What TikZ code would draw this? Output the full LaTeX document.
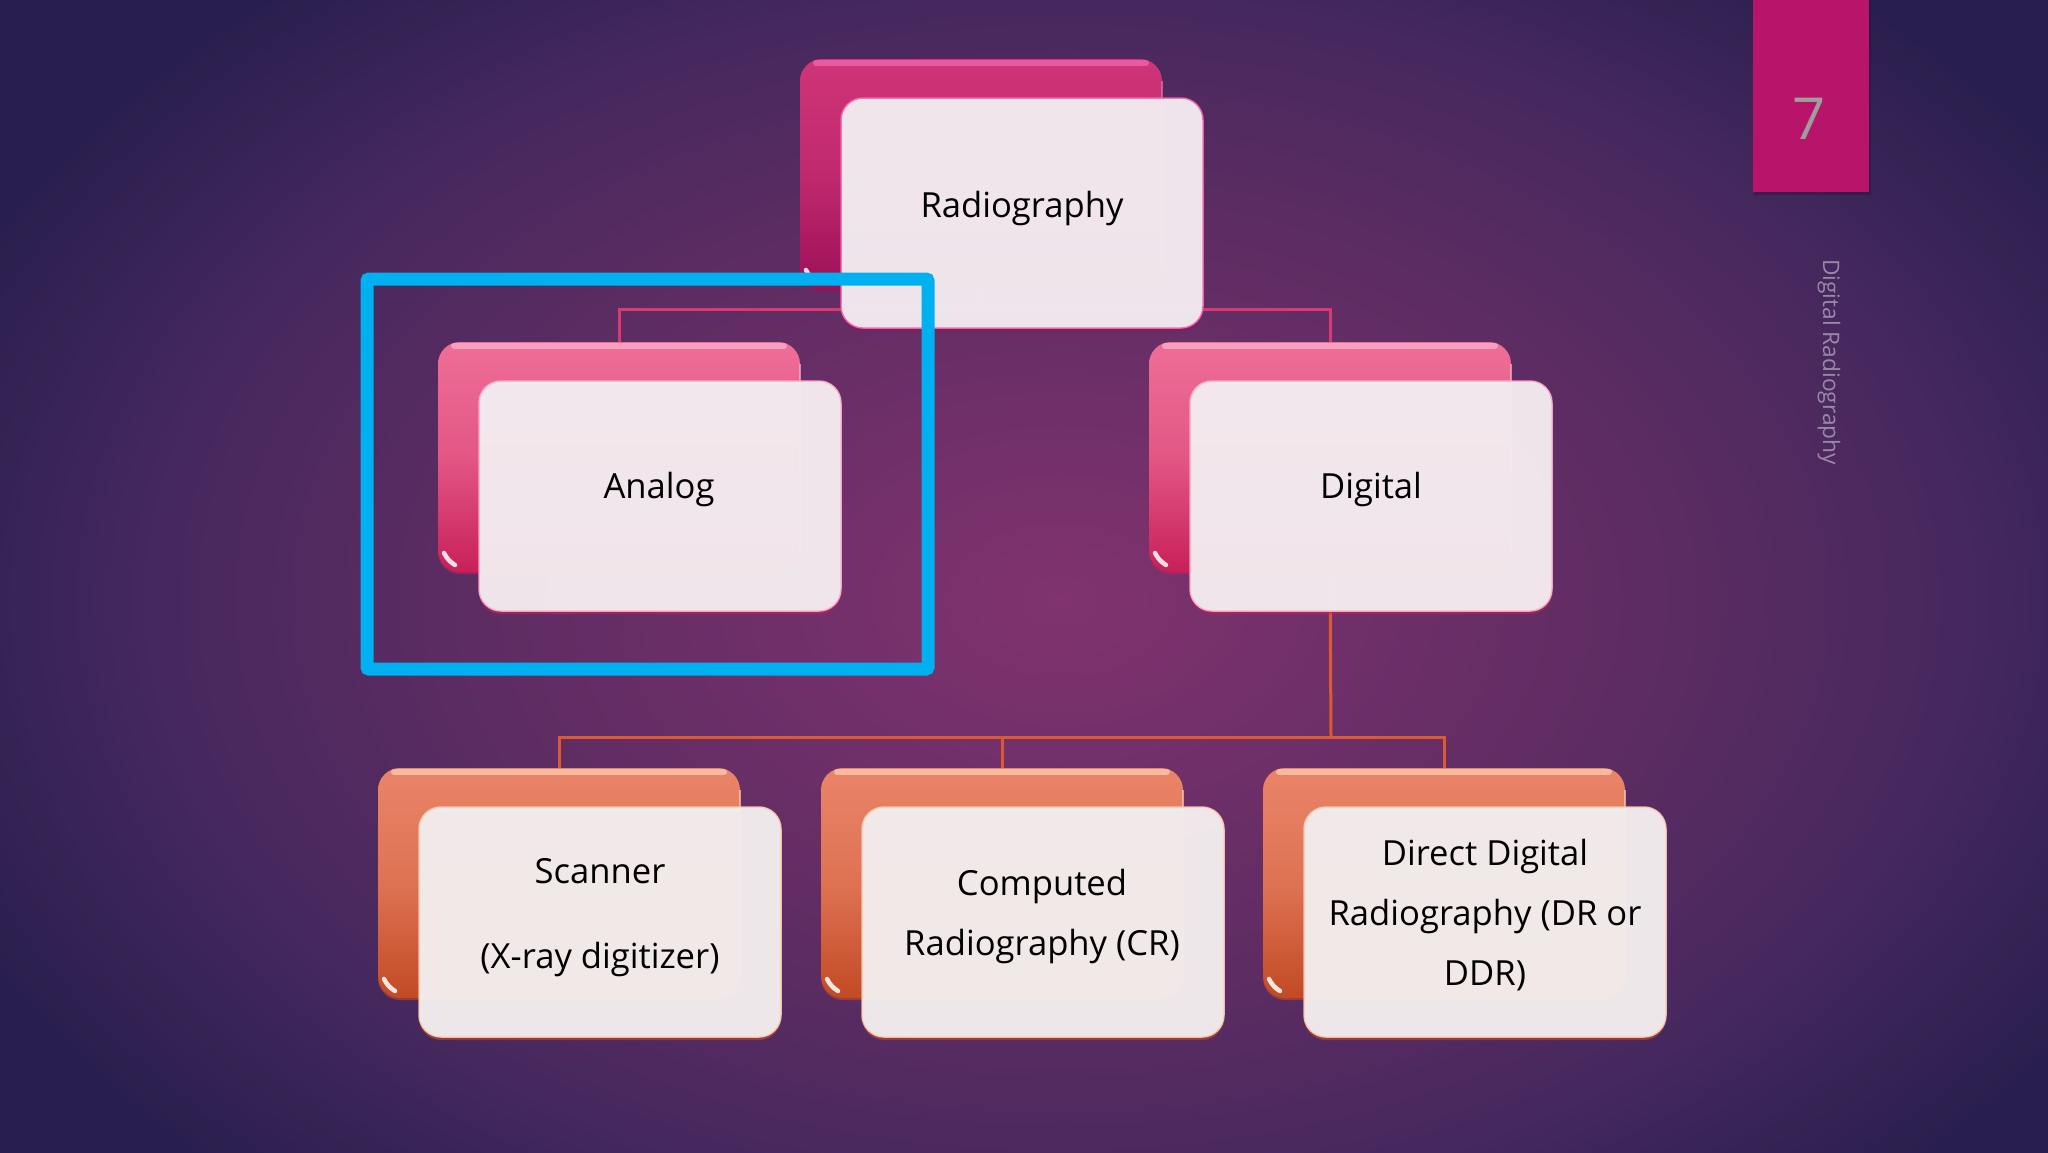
\documentclass[tikz,border=0pt]{standalone}
\usepackage{fontspec}
\setmainfont{Open Sans}
\usetikzlibrary{calc}
\pgfdeclarelayer{bgl}
\pgfdeclarelayer{conn}
\pgfsetlayers{bgl,conn,main}
\definecolor{bgA}{HTML}{80336E}
\definecolor{bgB}{HTML}{702F69}
\definecolor{bgC}{HTML}{5C2C62}
\definecolor{bgD}{HTML}{46285E}
\definecolor{bgE}{HTML}{291F4E}
\definecolor{wineT}{HTML}{D03478}
\definecolor{wineB}{HTML}{9C1058}
\definecolor{wineH}{HTML}{F468AE}
\definecolor{roseT}{HTML}{EE6E98}
\definecolor{roseB}{HTML}{C82058}
\definecolor{roseH}{HTML}{FBB0CC}
\definecolor{coralT}{HTML}{EA8468}
\definecolor{coralB}{HTML}{C24A24}
\definecolor{coralH}{HTML}{FBCDB4}
\definecolor{wineL}{HTML}{D83A72}
\definecolor{coralL}{HTML}{DC5A32}
\definecolor{cyanbox}{HTML}{00B0F0}
\definecolor{badge}{HTML}{B8146A}
\definecolor{cardfill}{HTML}{F4F2F4}
\pgfdeclareradialshading{bgshade}{\pgfpoint{0bp}{0bp}}{color(0bp)=(bgA);color(6bp)=(bgB);color(12.5bp)=(bgC);color(18.75bp)=(bgD);color(25bp)=(bgE);color(50bp)=(bgE)}
\tikzset{
  backcard/.style={rectangle,inner sep=0pt,outer sep=0pt,minimum width=362pt,minimum height=230pt,rounded corners=22pt,top color=#1T,bottom color=#1B,middle color=#1T!70!#1B},
  frontcard/.style={rectangle,inner sep=0pt,outer sep=0pt,minimum width=362pt,minimum height=230pt,rounded corners=22pt,fill=cardfill,fill opacity=.94,draw=#1,draw opacity=.9,line width=1.5pt},
  cardshadow/.style={rectangle,inner sep=0pt,outer sep=0pt,minimum width=362pt,minimum height=230pt,rounded corners=22pt,fill=#1,fill opacity=.6},
  cardtext/.style={font=\fontsize{34.6}{60}\selectfont,text=black,align=center,inner sep=0pt},
  link/.style={line width=3pt},
}
\newcommand{\cardpair}[4]{%
  \node[cardshadow=#4B] (#1s) at (#2-41,#3-37) {};
  \node[backcard=#4] (#1b) at (#2-41,#3-39) {};
  \draw[#4H,line width=6pt,line cap=round,opacity=.75] ($(#1b.north west)+(16,4)$) -- ($(#1b.north east)+(-16,4)$);
  \draw[#4H,line width=2pt,opacity=.7] ($(#1b.north east)+(0,22)$) -- ($(#1b.south east)+(0,-20)$);
  \draw[white,line width=4.5pt,line cap=round,opacity=.85] ($(#1b.south west)+(6,-19)$) to[bend right=15] ($(#1b.south west)+(17,-7)$);
  \node[cardshadow=#4B] (#1h) at (#2,#3+3) {};
  \node[frontcard=#4H] (#1f) at (#2,#3) {};
}
\begin{document}
\begin{tikzpicture}[x=1pt,y=-1pt]
\useasboundingbox (0,0) rectangle (2048,1152);
\begin{pgfonlayer}{bgl}
  \fill[bgE] (-5,-5) rectangle (2053,1157);
  \begin{scope}
    \clip (-5,-5) rectangle (2053,1157);
    \shade[shading=bgshade] (1060,600) ellipse [x radius=1200,y radius=800];
  \end{scope}
\end{pgfonlayer}

\cardpair{rad}{1022}{213}{wine}
\cardpair{ana}{660}{496}{rose}
\cardpair{dig}{1371}{496}{rose}
\cardpair{sca}{600}{922}{coral}
\cardpair{com}{1043}{922}{coral}
\cardpair{ddr}{1485}{922}{coral}

\coordinate (radj) at (981,309);
\coordinate (digj) at (1331,737);
\begin{pgfonlayer}{conn}
  \draw[link,wineL] (radb.south) -- (radj);
  \draw[link,wineL] (radj) -| (anab.north);
  \draw[link,wineL] (radj) -| (digb.north);
  \draw[link,coralL] (digb.south) -- (digj);
  \draw[link,coralL] (digj) -| (scab.north);
  \draw[link,coralL] (digj) -| (comb.north);
  \draw[link,coralL] (digj) -| (ddrb.north);
\end{pgfonlayer}

\node[cardtext] (radt) at (1022,209) {Radiography};
\node[cardtext] (anat) at (659,490) {Analog};
\node[cardtext] (digt) at (1371,490) {Digital};
\node[cardtext] (scat1) at (600,871) {Scanner};
\node[cardtext] (scat2) at (600,959) {(X-ray digitizer)};
\node[cardtext] (comt) at (1042,916) {Computed\\Radiography (CR)};
\node[cardtext] (ddrt) at (1485,915) {Direct Digital\\Radiography (DR or\\DDR)};

\node[draw=cyanbox,line width=13pt,rounded corners=2pt,minimum width=561pt,minimum height=390pt,inner sep=0pt,outer sep=0pt] (focus) at (647.5,474) {};

\fill[black,opacity=.18] (1754,0) rectangle (1871,195);
\node[fill=badge,minimum width=116pt,minimum height=192pt,inner sep=0pt,outer sep=0pt] (pagebox) at (1811,96) {};
\node[font=\fontsize{58}{60}\selectfont,text=black!38,inner sep=0pt] (pagenum) at (1809,119) {7};
\node[rotate=-90,font=\fontsize{22.7}{26}\selectfont,text=white!45!bgD,inner sep=0pt] (foot) at (1829,362) {Digital Radiography};
\end{tikzpicture}
\end{document}
